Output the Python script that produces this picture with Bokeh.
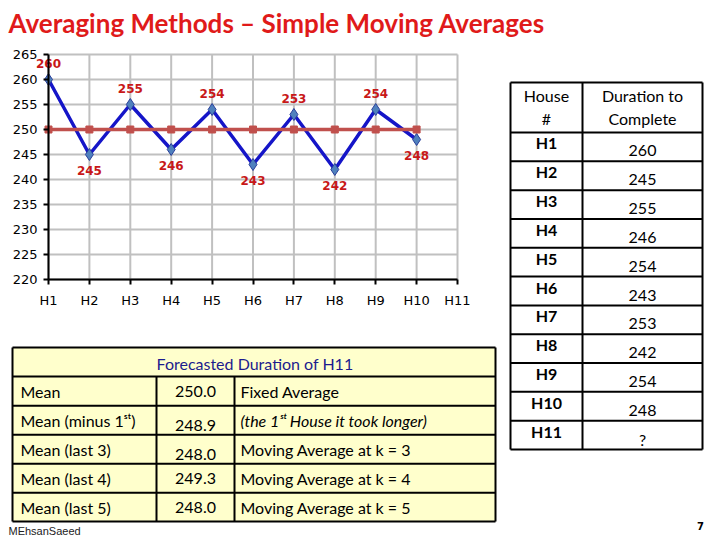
from bokeh.plotting import figure
from bokeh.models import Range1d, ColumnDataSource
from bokeh.layouts import row, column
from bokeh.embed import file_html
from bokeh.resources import INLINE
from bokeh.core.properties import value

# ---------------- data ----------------
houses = ["H1", "H2", "H3", "H4", "H5", "H6", "H7", "H8", "H9", "H10", "H11"]
durations = [260, 245, 255, 246, 254, 243, 253, 242, 254, 248]
fixed_average = [250, 250, 250, 250, 250, 250, 250, 250, 250, 250]
y_ticks = [220, 225, 230, 235, 240, 245, 250, 255, 260, 265]
table_values = ["260", "245", "255", "246", "254", "243", "253", "242", "254", "248", "?"]

title_text = "Averaging Methods – Simple Moving Averages"
forecast_title = "Forecasted Duration of H11"
forecast_labels = ["Mean", "Mean (minus 1ˢᵗ)", "Mean (last 3)", "Mean (last 4)", "Mean (last 5)"]
forecast_values = [250.0, 248.9, 248.0, 249.3, 248.0]
forecast_notes = ["Fixed Average", "(the 1ˢᵗ House it took longer)",
                  "Moving Average at k = 3", "Moving Average at k = 4", "Moving Average at k = 5"]

FONT = "Lato"
AXFONT = "DejaVu Sans"

TOTAL_W, TOTAL_H = 720, 540
TITLE_H = 46
LEFT_W = 508
CHART_H = 294
RT_W = TOTAL_W - LEFT_W
BT_H = TOTAL_H - TITLE_H - CHART_H
RT_H = TOTAL_H - TITLE_H


def canvas(w, h):
    f = figure(width=w, height=h, x_range=Range1d(0, w), y_range=Range1d(h, 0),
               x_axis_type=None, y_axis_type=None, output_backend="svg",
               toolbar_location=None, min_border=0, outline_line_color=None)
    f.min_border_left = f.min_border_right = f.min_border_top = f.min_border_bottom = 0
    f.background_fill_color = "white"
    f.border_fill_color = "white"
    return f


# ---------------- title ----------------
tf = canvas(TOTAL_W, TITLE_H)
tf.text(x=[8], y=[22], text=[title_text], text_align="left", text_baseline="middle",
        text_font=value(FONT), text_font_size="26px", text_font_style="bold",
        text_color="#e01a1a")

# ---------------- chart ----------------
x_pos = list(range(1, len(houses) + 1))
n = len(durations)

# pixel placement of the plot area inside the chart canvas
PX_LEFT, PX_RIGHT = 48, 457          # H1 .. H11
PX_TOP, PX_BOTTOM = 8, 233           # 265 .. 220
xs = (PX_RIGHT - PX_LEFT) / (x_pos[-1] - x_pos[0])
ys = (PX_BOTTOM - PX_TOP) / (y_ticks[-1] - y_ticks[0])
xr = Range1d(x_pos[0] - PX_LEFT / xs, x_pos[-1] + (LEFT_W - PX_RIGHT) / xs)
yr = Range1d(y_ticks[0] - (CHART_H - PX_BOTTOM) / ys, y_ticks[-1] + PX_TOP / ys)

chart = figure(width=LEFT_W, height=CHART_H, x_range=xr, y_range=yr,
               output_backend="svg", toolbar_location=None, min_border=0,
               outline_line_color=None)
chart.min_border_left = chart.min_border_right = chart.min_border_top = chart.min_border_bottom = 0
chart.background_fill_color = "white"
chart.border_fill_color = "white"
chart.grid.visible = False

# plot-area grid, limited to the value/category span
chart.segment(x0=[x_pos[0]] * len(y_ticks), y0=y_ticks, x1=[x_pos[-1]] * len(y_ticks), y1=y_ticks,
              line_color="#c0c0c0", line_width=2, level="underlay")
chart.segment(x0=x_pos, y0=[y_ticks[0]] * len(x_pos), x1=x_pos, y1=[y_ticks[-1]] * len(x_pos),
              line_color="#c0c0c0", line_width=2, level="underlay")

chart.xaxis.ticker = x_pos
chart.xaxis.major_label_overrides = {i: h for i, h in zip(x_pos, houses)}
chart.yaxis.ticker = y_ticks
chart.xaxis.fixed_location = y_ticks[0]
chart.yaxis.fixed_location = x_pos[0]
chart.xaxis.bounds = (x_pos[0], x_pos[-1])
chart.yaxis.bounds = (y_ticks[0], y_ticks[-1])
for ax in (chart.xaxis, chart.yaxis):
    ax.axis_line_color = "black"
    ax.axis_line_width = 2
    ax.major_tick_line_color = "black"
    ax.major_tick_line_width = 2
    ax.major_tick_in = 0
    ax.major_tick_out = 5
    ax.minor_tick_line_color = None
    ax.major_label_text_font = AXFONT
    ax.major_label_text_font_size = "13px"
    ax.major_label_text_color = "black"
chart.yaxis.major_label_standoff = 6
chart.xaxis.major_label_standoff = 8

chart.line(x_pos[:n], durations, line_color="#1515c8", line_width=3.5)
chart.scatter(x_pos[:n], durations, marker="diamond", size=12,
              fill_color="#4f81bd", line_color="#2a3f9a", line_width=1)
chart.line(x_pos[:n], fixed_average, line_color="#c0504d", line_width=3.5)
chart.scatter(x_pos[:n], fixed_average, marker="square", size=7,
              fill_color="#c0504d", line_color="#c0504d")

lab_src = ColumnDataSource(dict(
    x=x_pos[:n], y=durations, text=[str(v) for v in durations],
    dy=[-16 if v > m else 16 for v, m in zip(durations, fixed_average)]))
chart.text(x="x", y="y", text="text", y_offset="dy", source=lab_src,
           text_align="center", text_baseline="middle",
           text_font=value(AXFONT), text_font_size="12px", text_font_style="bold",
           text_color="#c81818")

# ---------------- right table ----------------
rt = canvas(RT_W, RT_H)
cx = [2, 74, 194]
top, head_b, bot = 36, 86, 403
rh = (bot - head_b) / len(houses)
hy = [top, head_b] + [head_b + rh * (k + 1) for k in range(len(houses))]
rt.segment(x0=[cx[0]] * len(hy), y0=hy, x1=[cx[-1]] * len(hy), y1=hy,
           line_color="black", line_width=2)
rt.segment(x0=cx, y0=[top] * 3, x1=cx, y1=[bot] * 3, line_color="black", line_width=2)
c1 = (cx[0] + cx[1]) / 2
c2 = (cx[1] + cx[2]) / 2
rt.text(x=[c1, c1, c2, c2], y=[49, 72, 49, 72], text=["House", "#", "Duration to", "Complete"],
        text_align="center", text_baseline="middle", text_font=value(FONT),
        text_font_size="16px", text_color="black")
rcent = [head_b + rh * (k + 0.5) for k in range(len(houses))]
rt.text(x=[c1] * len(houses), y=[c - 4 for c in rcent], text=houses,
        text_align="center", text_baseline="middle", text_font=value(FONT),
        text_font_size="16px", text_font_style="bold", text_color="black")
rt.text(x=[c2] * len(houses), y=[c + 4 for c in rcent], text=table_values,
        text_align="center", text_baseline="middle", text_font=value(FONT),
        text_font_size="16px", text_color="black")
rt.text(x=[192], y=[479], text=["7"], text_align="center", text_baseline="middle",
        text_font=value(AXFONT), text_font_size="10px", text_font_style="bold",
        text_color="black")

# ---------------- bottom table ----------------
bt = canvas(LEFT_W, BT_H)
bx = [12, 156, 234, 495]
by = [7, 36, 65.3, 94.3, 123.3, 152.3, 181]
bt.quad(left=[bx[0]], right=[bx[-1]], top=[by[0]], bottom=[by[-1]],
        fill_color="#ffffcc", line_color=None)
bt.segment(x0=[bx[0]] * len(by), y0=by, x1=[bx[-1]] * len(by), y1=by,
           line_color="black", line_width=2)
bt.segment(x0=[bx[0], bx[-1]], y0=[by[0]] * 2, x1=[bx[0], bx[-1]], y1=[by[-1]] * 2,
           line_color="black", line_width=2)
bt.segment(x0=bx[1:3], y0=[by[1]] * 2, x1=bx[1:3], y1=[by[-1]] * 2,
           line_color="black", line_width=2)
bt.text(x=[(bx[0] + bx[-1]) / 2 + 1], y=[(by[0] + by[1]) / 2 + 1], text=[forecast_title],
        text_align="center", text_baseline="middle", text_font=value(FONT),
        text_font_size="16px", text_color="#1c1c8e")
bcent = [(by[i + 1] + by[i + 2]) / 2 for i in range(len(forecast_labels))]
value_dy = [0, 5, 5, 0, 0]
bt.text(x=[bx[0] + 8] * len(bcent), y=bcent, text=forecast_labels,
        text_align="left", text_baseline="middle", text_font=value(FONT),
        text_font_size="16px", text_color="black")
bt.text(x=[(bx[1] + bx[2]) / 2] * len(bcent), y=[c + d for c, d in zip(bcent, value_dy)],
        text=["%.1f" % v for v in forecast_values],
        text_align="center", text_baseline="middle", text_font=value(FONT),
        text_font_size="16px", text_color="black")
normal = [i for i in range(len(forecast_notes)) if not forecast_notes[i].startswith("(")]
italic = [i for i in range(len(forecast_notes)) if forecast_notes[i].startswith("(")]
bt.text(x=[bx[2] + 6] * len(normal), y=[bcent[i] for i in normal],
        text=[forecast_notes[i] for i in normal],
        text_align="left", text_baseline="middle", text_font=value(FONT),
        text_font_size="16px", text_color="black")
bt.text(x=[bx[2] + 6] * len(italic), y=[bcent[i] for i in italic],
        text=[forecast_notes[i] for i in italic],
        text_align="left", text_baseline="middle", text_font=value(FONT),
        text_font_size="16px", text_font_style="italic", text_color="black")
bt.text(x=[8], y=[190], text=["MEhsanSaeed"], text_align="left", text_baseline="middle",
        text_font=value("Liberation Sans"), text_font_size="11px", text_color="#222222")

layout = column(tf, row(column(chart, bt, spacing=0), rt, spacing=0), spacing=0)
open("out.html", "w").write(file_html(layout, INLINE))
